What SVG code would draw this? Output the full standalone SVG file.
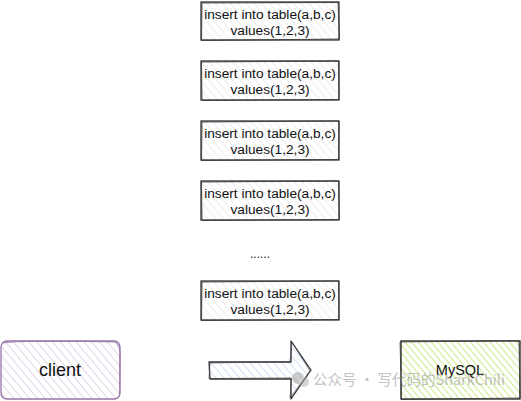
<svg xmlns="http://www.w3.org/2000/svg" width="521" height="401" viewBox="0 0 521 401">
<style>
.sql rect{fill:url(#hGray);stroke:#222;stroke-width:1.2}
.sql .s2{fill:none;stroke:#333;stroke-width:0.8}
.t{font-family:"Liberation Sans",Arial,sans-serif;font-size:13.7px;fill:#111;text-anchor:middle}
</style>
<defs>
<pattern id="hGray" width="6" height="6" patternUnits="userSpaceOnUse" patternTransform="rotate(-40)">
<rect width="6" height="6" fill="#fff"/><line x1="0" y1="0" x2="0" y2="6" stroke="#e8e8e8" stroke-width="1.5"/>
</pattern>
<pattern id="hPurple" width="6" height="6" patternUnits="userSpaceOnUse" patternTransform="rotate(-40)">
<rect width="6" height="6" fill="#fff"/><line x1="0" y1="0" x2="0" y2="6" stroke="#e1d5e7" stroke-width="2"/>
</pattern>
<pattern id="hBlue" width="6" height="6" patternUnits="userSpaceOnUse" patternTransform="rotate(-40)">
<rect width="6" height="6" fill="#fff"/><line x1="0" y1="0" x2="0" y2="6" stroke="#cfe0f5" stroke-width="2"/>
</pattern>
<pattern id="hGreen" width="5" height="5" patternUnits="userSpaceOnUse" patternTransform="rotate(-40)">
<rect width="5" height="5" fill="#fff"/><line x1="0" y1="0" x2="0" y2="5" stroke="#cdeb8b" stroke-width="2"/>
</pattern>
</defs>
<g id="sql1" class="sql"><rect x="201" y="2" width="138" height="38"/><path class="s2" d="M202 3 L338 2.5 L339.5 39 L201.5 40.5 Z"/>
<text class="t" x="270" y="19">insert into table(a,b,c)</text><text class="t" x="270" y="35">values(1,2,3)</text></g>
<g id="sql2" class="sql"><rect x="201" y="61" width="138" height="39"/><path class="s2" d="M201.5 62 L338.5 61 L339 99.5 L202 100.5 Z"/>
<text class="t" x="270" y="78">insert into table(a,b,c)</text><text class="t" x="270" y="94">values(1,2,3)</text></g>
<g id="sql3" class="sql"><rect x="201" y="121" width="138" height="39"/><path class="s2" d="M202 122 L339 121 L338.5 159.5 L201.5 160.5 Z"/>
<text class="t" x="270" y="138">insert into table(a,b,c)</text><text class="t" x="270" y="154">values(1,2,3)</text></g>
<g id="sql4" class="sql"><rect x="201" y="181" width="138" height="39"/><path class="s2" d="M201.5 182 L338.5 181 L339.5 219.5 L202 220.5 Z"/>
<text class="t" x="270" y="198">insert into table(a,b,c)</text><text class="t" x="270" y="214">values(1,2,3)</text></g>
<g id="dots"><text class="t" x="260" y="258" style="font-size:12px">......</text></g>
<g id="sql5" class="sql"><rect x="201" y="281" width="138" height="39"/><path class="s2" d="M202 282 L338.5 281 L339 319.5 L201.5 320.5 Z"/>
<text class="t" x="270" y="298">insert into table(a,b,c)</text><text class="t" x="270" y="314">values(1,2,3)</text></g>
<g id="client">
<rect x="1" y="341" width="119" height="58" rx="6" fill="url(#hPurple)" stroke="#9673a6" stroke-width="1.3"/>
<path d="M3 343 Q20 340 115 342 Q121 345 120 360 L119.5 396" fill="none" stroke="#9673a6" stroke-width="0.8"/>
<text x="60" y="376" style="font-family:'Liberation Sans',Arial,sans-serif;font-size:18px;fill:#111;text-anchor:middle">client</text>
</g>
<g id="connectors">
<path d="M209 362 L291 362 L291 341 L311 370 L291 399 L291 379 L210 379 Z" fill="url(#hBlue)" stroke="#333" stroke-width="1.3" stroke-linejoin="round"/>
<path d="M210 363 L290 361.5 L292 342 L310 371 L290 398 L291.5 378 L209 378.5 Z" fill="none" stroke="#444" stroke-width="0.7"/>
</g>
<g id="mysql">
<rect x="401" y="341" width="119" height="58" fill="url(#hGreen)" stroke="#222" stroke-width="1.3"/>
<path d="M400 342 L519 340.5 L520 398 L401.5 399.5 Z" fill="none" stroke="#333" stroke-width="0.7"/>
<text x="460" y="375" style="font-family:'Liberation Sans',Arial,sans-serif;font-size:14.5px;fill:#111;text-anchor:middle">MySQL</text>
</g>
<g id="watermark" opacity="0.5">
<circle cx="298" cy="378" r="6" fill="#999"/>
<circle cx="304" cy="382" r="5" fill="#aaa"/>
<text x="313" y="385" style="font-family:'Noto Sans CJK SC','Liberation Sans',sans-serif;font-size:14.5px;fill:#888">公众号 · 写代码的SharkChili</text>
</g>
</svg>
